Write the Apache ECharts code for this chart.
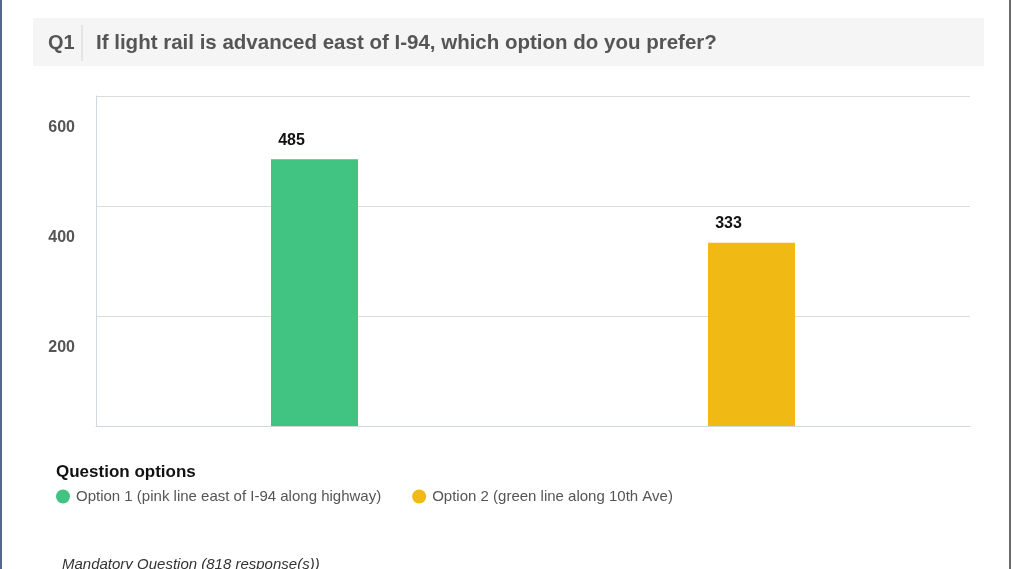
<!DOCTYPE html>
<html>
<head>
<meta charset="utf-8">
<script src="https://cdn.jsdelivr.net/npm/echarts@6/dist/echarts.min.js"></script>
<style>
html,body{margin:0;padding:0;background:#fff;}
#chart{width:1012px;height:569px;}
</style>
</head>
<body>
<div id="chart"></div>
<script>
const questionNo = 'Q1';
const questionText = 'If light rail is advanced east of I-94, which option do you prefer?';
const categories = ['Option 1 (pink line east of I-94 along highway)', 'Option 2 (green line along 10th Ave)'];
const values = [485, 333];
const colors = ['#41c382', '#f0b913'];
const yTicks = { min: 0, max: 600, interval: 200 };
const legendTitle = 'Question options';
const footnote = 'Mandatory Question (818 response(s))';

const FONT = '"Liberation Sans", Arial, Helvetica, sans-serif';
const chart = echarts.init(document.getElementById('chart'), null, { renderer: 'canvas' });

const series = categories.map((name, i) => ({
  name: name,
  type: 'bar',
  barWidth: 87,
  barGap: '-100%',
  itemStyle: { color: colors[i] },
  label: {
    show: true, position: 'top', distance: 11, offset: [-23, 0],
    fontFamily: FONT, fontSize: 16, fontWeight: 'bold', color: '#111'
  },
  data: categories.map((c, j) => (j === i ? values[i] : '-'))
}));

chart.setOption({
  animation: false,
  backgroundColor: '#ffffff',
  graphic: [
    { type: 'rect', shape: { x: 33, y: 18, width: 951, height: 48 }, style: { fill: '#f5f5f5' }, z: -10 },
    { type: 'line', shape: { x1: 82, y1: 25, x2: 82, y2: 61 }, style: { stroke: '#dedede', lineWidth: 1.5 } },
    { type: 'line', shape: { x1: 1, y1: 0, x2: 1, y2: 569 }, style: { stroke: '#56688a', lineWidth: 2 } },
    { type: 'line', shape: { x1: 1010, y1: 0, x2: 1010, y2: 569 }, style: { stroke: '#6a6a6a', lineWidth: 2 } }
  ],
  title: [
    { text: questionNo, left: 48, top: 33, padding: 0, textStyle: { fontFamily: FONT, fontSize: 20, fontWeight: 'bold', color: '#555' } },
    { text: questionText, left: 96, top: 33, padding: 0, textStyle: { fontFamily: FONT, fontSize: 20.5, fontWeight: 'bold', color: '#555' } },
    { text: legendTitle, left: 56, top: 464, padding: 0, textStyle: { fontFamily: FONT, fontSize: 17, fontWeight: 'bold', color: '#111' } },
    { text: footnote, left: 62, top: 557, padding: 0, textStyle: { fontFamily: FONT, fontSize: 15, fontWeight: 'normal', fontStyle: 'italic', color: '#333' } }
  ],
  legend: {
    data: categories,
    left: 56, top: 489, padding: 0,
    icon: 'circle', itemWidth: 14, itemHeight: 14, itemGap: 31,
    textStyle: { fontFamily: FONT, fontSize: 15, color: '#555', padding: [0, 0, 0, 1] }
  },
  grid: { left: 96, right: 42, top: 96, bottom: 143, containLabel: false },
  xAxis: {
    type: 'category',
    data: categories,
    axisLine: { show: true, lineStyle: { color: '#cfd8dc', width: 1 } },
    axisTick: { show: false },
    axisLabel: { show: false },
    splitLine: { show: false }
  },
  yAxis: {
    type: 'value',
    min: yTicks.min, max: yTicks.max, interval: yTicks.interval,
    axisLine: { show: true, lineStyle: { color: '#cfd8dc', width: 1 } },
    axisTick: { show: false },
    splitLine: { show: true, lineStyle: { color: '#dcdcdc', width: 1 } },
    axisLabel: {
      showMinLabel: false,
      margin: 21,
      verticalAlign: 'top',
      padding: [24, 0, 0, 0],
      fontFamily: FONT, fontSize: 16, fontWeight: 'bold', color: '#555'
    }
  },
  series: series
});
</script>
</body>
</html>
